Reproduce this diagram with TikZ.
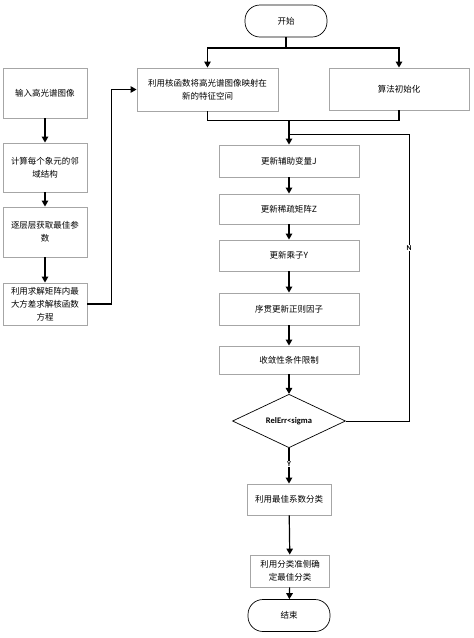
\documentclass[tikz,border=0pt]{standalone}
\usepackage{fontspec}
\setmainfont{Noto Sans CJK SC}
\newfontfamily\latinfont{Carlito}
\usetikzlibrary{shapes.geometric,arrows.meta}

\begin{document}
\begin{tikzpicture}[x=1pt,y=-1pt,
    font=\fontsize{8.5}{13}\selectfont,
    box/.style={draw=black!35, line width=0.9pt, align=center, inner sep=1pt},
    term/.style={draw, line width=0.7pt, rounded corners=15pt, minimum width=82pt, minimum height=32pt},
    line/.style={line width=1.2pt},
    arr/.style={line, -{Triangle[length=6pt,width=6.5pt]}},
    tag/.style={fill=white, inner sep=1pt, font=\latinfont\fontsize{7.5}{9}\selectfont\bfseries}]
    \useasboundingbox (0,0) rectangle (474,638);

    % main column
    \node[term] (start) at (286,21) {开始};
    \node[box, minimum width=141pt, minimum height=43pt] (map) at (207.5,89.5) {利用核函数将高光谱图像映射在\\新的特征空间};
    \node[box, minimum width=140pt, minimum height=42pt] (init) at (399,89) {算法初始化};
    \node[box, minimum width=140pt, minimum height=32pt] (updJ) at (289,161) {更新辅助变量J};
    \node[box, minimum width=140pt, minimum height=30pt] (updZ) at (289,209) {更新稀疏矩阵Z};
    \node[box, minimum width=140pt, minimum height=31pt] (updY) at (289,255.5) {更新乘子Y};
    \node[box, minimum width=140pt, minimum height=32pt] (updR) at (289,309) {序贯更新正则因子};
    \node[box, minimum width=140pt, minimum height=28pt] (conv) at (289,360) {收敛性条件限制};
    \node[draw, diamond, line width=0.7pt, minimum width=113pt, minimum height=49pt, inner sep=0pt] (test) at (289,421) {\latinfont\bfseries\fontsize{8.5}{10}\selectfont RelErr<sigma};
    \node[box, minimum width=84pt, minimum height=31pt] (cls) at (289,499.5) {利用最佳系数分类};
    \node[box, minimum width=79pt, minimum height=32pt] (best) at (290,571) {利用分类准侧确\\定最佳分类};
    \node[term] (stop) at (289,615.5) {结束};

    % left column
    \node[box, minimum width=84pt, minimum height=50pt] (input) at (45,93) {输入高光谱图像};
    \node[box, minimum width=84pt, minimum height=49pt] (nbhd) at (45,167.5) {计算每个象元的邻\\域结构};
    \node[box, minimum width=84pt, minimum height=50pt] (param) at (45,232) {逐层层获取最佳参\\数};
    \node[box, minimum width=84pt, minimum height=42pt] (kern) at (45,304) {利用求解矩阵内最\\大方差求解核函数\\方程};

    \coordinate (split) at (286,48);
    \coordinate (merge) at (289,120);
    \coordinate (loop) at (289,134);
    \coordinate (loopR) at (409,134);

    \draw[arr] (start) -- (split) -| (map);
    \draw[arr] (split) -| (init);
    \draw[line] (map.south) -- ++(0,9) -| (init.south);
    \draw[arr] (merge) -- (updJ);
    \draw[arr] (updJ) -- (updZ);
    \draw[arr] (updZ) -- (updY);
    \draw[arr] (updY) -- (updR);
    \draw[arr] (updR) -- (conv);
    \draw[arr] (conv) -- (test);
    \draw[line, line width=1pt] (test.east) -| (loopR) -- (loop);
    \node[tag] (no) at (409,248) {N};
    \draw[arr] (test) -- (cls) node[tag, pos=0.45] (yes) {Y};
    \draw[arr] (cls) -- (best);
    \draw[arr] (best) -- (stop);

    \draw[arr] (input) -- (nbhd);
    \draw[arr] (nbhd) -- (param);
    \draw[arr] (param) -- (kern);
    \draw[arr] (kern.east) -- ++(24,0) |- (map.west);
\end{tikzpicture}
\end{document}
